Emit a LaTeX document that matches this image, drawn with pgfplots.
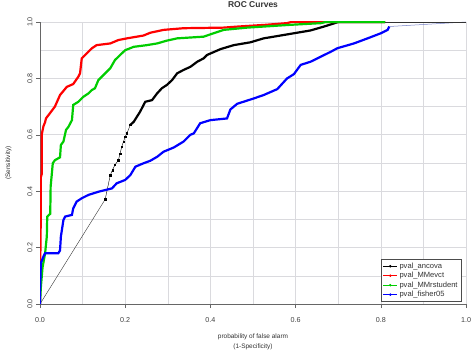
\documentclass[border=0pt]{standalone}
\usepackage{fontspec}
\setmainfont{Liberation Sans}
\usepackage{pgfplots}
\pgfplotsset{compat=1.18}
\definecolor{rgreen}{RGB}{0,205,0}
\definecolor{gridgray}{RGB}{218,218,222}
\definecolor{thinblue}{RGB}{120,130,200}
\begin{document}
\begin{tikzpicture}
\begin{axis}[
 at={(0,0)}, anchor=south west,
 scale only axis, width=426bp, height=282bp,
 xmin=0, xmax=1, ymin=0, ymax=1,
 axis lines*=left,
 axis line style={black!60, line width=0.5bp},
 xtick={0,0.2,0.4,0.6,0.8,1}, xticklabels={0.0,0.2,0.4,0.6,0.8,1.0},
 ytick={0,0.2,0.4,0.6,0.8,1}, yticklabels={0.0,0.2,0.4,0.6,0.8,1.0},
 minor xtick={0.1,0.3,0.5,0.7,0.9}, minor ytick={0.1,0.3,0.5,0.7,0.9},
 grid=both,
 major grid style={gridgray, line width=0.6bp},
 minor grid style={gridgray, line width=0.6bp},
 tick align=outside, major tick length=4bp, minor tick length=0pt,
 tick style={black!60, line width=0.5bp},
 ticklabel style={font=\fontsize{7.2}{8}\selectfont, text=black!75},
 xticklabel style={anchor=center, at={(0,0)}},
 xticklabel style={yshift=-12bp},
 yticklabel style={rotate=90, anchor=south, xshift=0bp},
 xlabel={probability of false alarm\\(1-Specificity)},
 xlabel style={align=center, font=\fontsize{6.5}{10}\selectfont, text=black!80, at={(rel axis cs:0.5,-0.135)}, anchor=center},
 ylabel={(Sensitivity)},
 ylabel style={font=\fontsize{6.5}{8}\selectfont, text=black!80, at={(rel axis cs:-0.074,0.5)}, anchor=center},
 title={ROC Curves},
 title style={font=\bfseries\fontsize{8.5}{10}\selectfont, text=black!80, at={(rel axis cs:0.5,1.040)}, anchor=center},
 legend style={at={(rel axis cs:1,0)}, anchor=south east, xshift=-4bp, yshift=2bp,
   draw=black!70, line width=0.8bp, font=\fontsize{7.6}{8.8}\selectfont, text=black!80,
   inner xsep=2bp, inner ysep=1.5bp, row sep=-1.5bp, cells={anchor=west}},
 legend image code/.code={\draw[#1] (0bp,0bp) -- (14bp,0bp); \fill[#1] (7bp,0bp) circle (1bp);},
]
% pval_ancova (black)
\addplot[black!80, line width=0.4bp, forget plot] coordinates {(0,0) (0.153,0.371)};
\addplot[black, line width=0.4bp, mark=square*, mark size=0.7bp, forget plot] coordinates {
(0.153,0.371) (0.165,0.457) (0.170,0.475) (0.176,0.493) (0.184,0.51) (0.188,0.534) (0.192,0.558) (0.196,0.576) (0.200,0.593) (0.204,0.605) (0.212,0.635)};
\addplot[black, line width=2.2bp, forget plot] coordinates {
(0.212,0.635) (0.22,0.646) (0.235,0.682) (0.247,0.717) (0.263,0.723) (0.275,0.747) (0.286,0.765) (0.298,0.777) (0.31,0.794) (0.322,0.818) (0.337,0.83) (0.353,0.841) (0.369,0.859) (0.384,0.871) (0.392,0.883) (0.424,0.904) (0.455,0.918) (0.494,0.928) (0.525,0.942) (0.541,0.946) (0.588,0.958) (0.635,0.970) (0.667,0.984) (0.69,0.995) (0.70,1) (0.81,1)};
% pval_MMevct (red)
\addplot[red, line width=2.2bp, forget plot] coordinates {
(0,0) (0.001,0.2) (0.002,0.33) (0.002,0.45) (0.004,0.46) (0.004,0.60) (0.008,0.63) (0.012,0.645) (0.014,0.658) (0.02,0.67) (0.025,0.68) (0.035,0.70) (0.047,0.741) (0.063,0.77) (0.078,0.78) (0.09,0.806) (0.094,0.818) (0.098,0.871) (0.106,0.883) (0.122,0.907) (0.133,0.918) (0.165,0.924) (0.184,0.936) (0.204,0.942) (0.243,0.952) (0.259,0.962) (0.29,0.972) (0.337,0.978) (0.43,0.980) (0.466,0.984) (0.53,0.99) (0.58,0.996) (0.59,1) (0.81,1)};
% pval_MMrstudent (green)
\addplot[rgreen, line width=2.2bp, forget plot] coordinates {
(0,0) (0.002,0.06) (0.006,0.13) (0.012,0.18) (0.016,0.24) (0.017,0.31) (0.024,0.32) (0.025,0.416) (0.03,0.499) (0.035,0.51) (0.047,0.52) (0.049,0.564) (0.055,0.576) (0.061,0.617) (0.067,0.629) (0.075,0.652) (0.078,0.706) (0.09,0.717) (0.102,0.735) (0.114,0.747) (0.122,0.759) (0.129,0.765) (0.137,0.794) (0.149,0.812) (0.165,0.836) (0.176,0.865) (0.188,0.883) (0.2,0.9) (0.22,0.912) (0.251,0.918) (0.275,0.924) (0.298,0.934) (0.322,0.942) (0.384,0.948) (0.431,0.972) (0.486,0.98) (0.588,0.99) (0.66,0.996) (0.67,1) (0.81,1)};
% pval_fisher05 (blue)
\addplot[blue, line width=2.2bp, forget plot] coordinates {
(0,0) (0,0.04) (0.002,0.145) (0.008,0.168) (0.012,0.18) (0.043,0.18) (0.047,0.19) (0.049,0.239) (0.055,0.298) (0.059,0.31) (0.075,0.316) (0.078,0.339) (0.086,0.363) (0.098,0.375) (0.114,0.387) (0.137,0.398) (0.153,0.404) (0.169,0.41) (0.18,0.428) (0.2,0.44) (0.212,0.457) (0.224,0.487) (0.243,0.499) (0.259,0.508) (0.275,0.522) (0.29,0.54) (0.314,0.555) (0.337,0.576) (0.353,0.6) (0.361,0.605) (0.376,0.641) (0.4,0.652) (0.439,0.658) (0.447,0.69) (0.463,0.71) (0.502,0.729) (0.525,0.741) (0.557,0.762) (0.58,0.8) (0.596,0.815) (0.612,0.848) (0.635,0.859) (0.659,0.877) (0.682,0.894) (0.698,0.907) (0.737,0.924) (0.769,0.942) (0.8,0.96) (0.816,0.972) (0.82,0.984)};
\addplot[thinblue, line width=0.5bp, forget plot] coordinates {(0.82,0.984) (1,1)};
\addplot[black!80, line width=0.5bp, forget plot] coordinates {(0.81,1) (1,1)};
\addlegendimage{black, line width=0.5bp}
\addlegendentry{pval\_ancova}
\addlegendimage{red, line width=0.5bp}
\addlegendentry{pval\_MMevct}
\addlegendimage{rgreen, line width=0.5bp}
\addlegendentry{pval\_MMrstudent}
\addlegendimage{blue, line width=0.5bp}
\addlegendentry{pval\_fisher05}
\end{axis}
\pgfresetboundingbox
\path (-40bp,-47bp) rectangle (434bp,304bp);
\end{tikzpicture}
\end{document}
